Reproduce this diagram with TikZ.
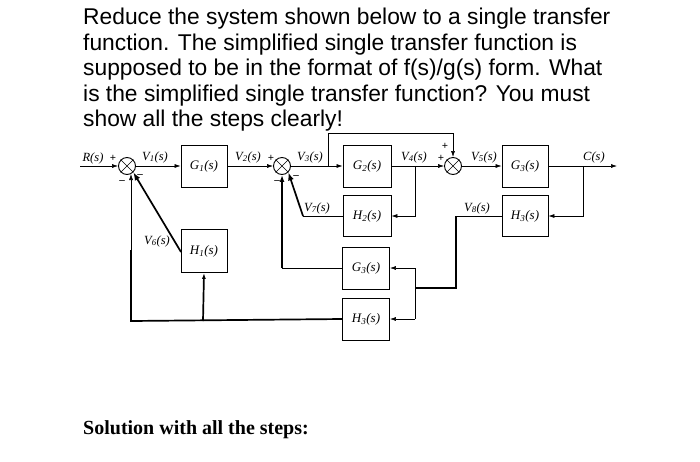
\documentclass[tikz,border=0pt]{standalone}
\usepackage{fontspec}
\setmainfont{Liberation Serif}
\newfontfamily\titlefont{Liberation Sans}
\usetikzlibrary{arrows.meta}
\newcommand{\tf}[2]{#1\textsubscript{\upshape\itshape #2}(\textit{s})}
\begin{document}
\begin{tikzpicture}[x=1pt,y=-1pt,
  blk/.style={draw,line width=0.9pt,inner sep=0pt,font=\fontsize{13}{13}\selectfont\itshape},
  sum/.style={draw,circle,minimum size=17pt,inner sep=0pt,line width=0.9pt},
  sig/.style={line width=0.6pt,-{Latex[length=6pt,width=4pt]}},
  thk/.style={line width=1.7pt},
  lbl/.style={font=\fontsize{12.5}{12.5}\selectfont\itshape,inner sep=0pt},
  pm/.style={font=\fontsize{11}{11}\selectfont\bfseries,inner sep=0pt}]
\useasboundingbox (0,0) rectangle (700,461);
\fill[white] (0,0) rectangle (700,461);
\foreach \t [count=\i] in {Reduce the system shown below to a single transfer,
 function. The simplified single transfer function is,
 supposed to be in the format of f(s)/g(s) form. What,
 is the simplified single transfer function? You must,
 show all the steps clearly!}
 \node[anchor=base west,inner sep=0pt,font=\titlefont\fontsize{22.8}{22.8}\selectfont] (t\i) at (83,{-1+25.5*\i}) {\t};
\node[anchor=base west,inner sep=0pt,font=\fontsize{20}{20}\selectfont\bfseries] (sol) at (83,434) {Solution with all the steps:};
% blocks
\node[blk,minimum width=46pt,minimum height=42pt] (G1) at (204,166) {\tf{G}{1}};
\node[blk,minimum width=48pt,minimum height=42pt] (G2) at (367,166) {\tf{G}{2}};
\node[blk,minimum width=46pt,minimum height=42pt] (G3) at (525,166) {\tf{G}{3}};
\node[blk,minimum width=48pt,minimum height=41pt] (H2) at (367,216) {\tf{H}{2}};
\node[blk,minimum width=46pt,minimum height=41pt] (H3r) at (525,216) {\tf{H}{3}};
\node[blk,minimum width=47pt,minimum height=42pt] (G3b) at (366,268) {\tf{G}{3}};
\node[blk,minimum width=47pt,minimum height=42pt] (H3b) at (366,319) {\tf{H}{3}};
\node[blk,minimum width=46pt,minimum height=43pt] (H1) at (204,251) {\tf{H}{1}};
\node[sum] (S1) at (127,166) {};
\node[sum] (S2) at (282,166) {};
\node[sum] (S3) at (453,166) {};
\draw[line width=0.6pt] (S1.45)--(S1.225) (S1.135)--(S1.315);
\draw[line width=0.6pt] (S2.45)--(S2.225) (S2.135)--(S2.315);
\draw[line width=0.6pt] (S3.45)--(S3.225) (S3.135)--(S3.315);
% coordinates
\coordinate (Rin) at (80,166);
\coordinate (b3) at (328,166);
\coordinate (b4) at (415,166);
\coordinate (bC) at (583,166);
\coordinate (Cout) at (617,166);
% forward
\draw[sig] (Rin)--(S1);
\draw[sig] (S1)--(G1);
\draw[sig] (G1)--(S2);
\draw[sig] (S2)--(G2);
\draw[sig] (G2)--(S3);
\draw[sig] (S3)--(G3);
\draw[sig] (G3)--(Cout);
\draw[sig] (b3)--(328,133)--(453,133)--(S3);
\draw[sig] (b4)--(415,216)--(H2);
\draw[sig] (bC)--(583,216)--(H3r);
% V8
\coordinate (j8) at (415,288);
\draw[line width=0.6pt] (H3r.west)--(456,216);
\draw[thk] (456,216)--(456,288)--(j8);
\draw[sig] (415,268)--(G3b);
\draw[sig] (415,319)--(H3b);
\draw[line width=0.6pt] (415,268)--(415,319);
% feedbacks
\draw[line width=0.6pt] (H2.west)--(303,216);
\draw[thk,-{Latex[length=8pt,width=6pt]}] (303,216)--(S2.south east);
\draw[line width=0.6pt] (G3b.west)--(282,268)--(282,250);
\draw[thk,-{Latex[length=7pt,width=5pt]}] (282,268)--(S2.south);
\draw[thk] (H3b.west)--(131,321)--(131,250);
\draw[line width=0.6pt,-{Latex[length=6pt,width=4pt]}] (131,250)--(131,174);
\draw[thk,-{Latex[length=6pt,width=4pt]}] (203,321)--(H1.south);
\draw[thk,-{Latex[length=8pt,width=6pt]}] (181,252)--(S1.south east);
% labels
\node[lbl] (lR) at (93,158) {\textit{R}(\textit{s})};
\node[lbl] (l1) at (155,157) {\tf{V}{1}};
\node[lbl] (l2) at (248,157) {\tf{V}{2}};
\node[lbl] (l3) at (310,157) {\tf{V}{3}};
\node[lbl] (l4) at (414,157) {\tf{V}{4}};
\node[lbl] (l5) at (484,157) {\tf{V}{5}};
\node[lbl] (lC) at (594,157) {\textit{C}(\textit{s})};
\node[lbl] (l7) at (317,208) {\tf{V}{7}};
\node[lbl] (l8) at (477,208) {\tf{V}{8}};
\node[lbl] (l6) at (157,241) {\tf{V}{6}};
\node[pm] (p1) at (113,158) {+};
\node[pm] (m1a) at (122,182) {--};
\node[pm] (m1b) at (140,176) {--};
\node[pm] (p2) at (271,158) {+};
\node[pm] (m2a) at (277,182) {--};
\node[pm] (m2b) at (296,177) {--};
\node[pm] (p3) at (441,158) {+};
\node[pm] (p3b) at (445,146) {+};
\end{tikzpicture}
\end{document}
